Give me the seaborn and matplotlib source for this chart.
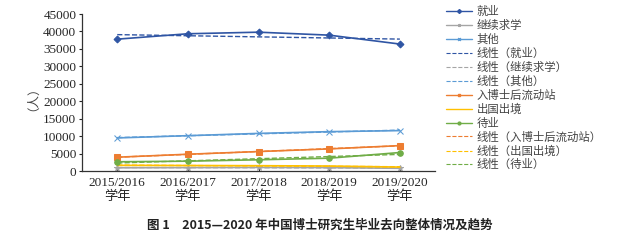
import numpy as np
import pandas as pd
import seaborn as sns
import matplotlib.pyplot as plt
from matplotlib.lines import Line2D

years = ['2015/2016\n学年', '2016/2017\n学年', '2017/2018\n学年', '2018/2019\n学年', '2019/2020\n学年']
employment = [37800, 39350, 39800, 38950, 36400]
further_study = [950, 1000, 1050, 1000, 800]
other = [9500, 10150, 10800, 11300, 11600]
postdoc = [3980, 4830, 5600, 6360, 7300]
abroad = [1650, 1600, 1550, 1450, 1150]
unemployed = [2670, 2840, 3240, 3700, 5320]

sns.set_style('ticks')
plt.rcParams['font.family'] = ['Liberation Serif', 'Noto Sans CJK SC']

fig = plt.figure(figsize=(6.4, 2.42), dpi=100)
ax = fig.add_axes([0.128, 0.293, 0.552, 0.649])

idx = np.arange(len(years))
series = [
    ('就业', employment, '#2F55A4', 'D', 3.5),
    ('继续求学', further_study, '#A5A5A5', '*', 5),
    ('其他', other, '#5B9BD5', 'x', 4),
    ('入博士后流动站', postdoc, '#ED7D31', 's', 4),
    ('出国出境', abroad, '#FFC000', '', 0),
    ('待业', unemployed, '#70AD47', 'o', 4),
]

solid = {}
trend = {}
for name, vals, col, mk, ms in series:
    df = pd.DataFrame({'x': idx, 'y': vals})
    sns.lineplot(data=df, x='x', y='y', ax=ax, color=col, marker=mk if mk else None,
                 markersize=ms, markeredgecolor=col, lw=1.2)
    sns.regplot(data=df, x='x', y='y', ax=ax, scatter=False, ci=None, truncate=True,
                line_kws=dict(ls='--', color=col, lw=1.0))
    solid[name] = Line2D([], [], color=col, lw=1.0, marker=mk if mk else None, markersize=2)
    trend[name] = Line2D([], [], color=col, lw=0.8, ls='--')

ax.set_xlim(-0.5, 4.5)
ax.set_ylim(0, 45000)
ax.set_yticks(np.arange(0, 45001, 5000))
ax.set_xticks(idx)
ax.set_xticklabels(years, fontsize=9.5, linespacing=1.2)
ax.tick_params(axis='y', labelsize=9.5, length=2, direction='out', pad=2)
ax.tick_params(axis='x', length=2, direction='in', pad=4)
ax.set_xlabel('')
ax.set_ylabel('（人）', fontsize=9, color='#444444', labelpad=7)
sns.despine(ax=ax)
for s in ['left', 'bottom']:
    ax.spines[s].set_color('#333333')
    ax.spines[s].set_linewidth(0.9)

order = ['就业', '继续求学', '其他', 'T就业', 'T继续求学', 'T其他',
         '入博士后流动站', '出国出境', '待业', 'T入博士后流动站', 'T出国出境', 'T待业']
handles, labels = [], []
for key in order:
    if key.startswith('T'):
        handles.append(trend[key[1:]])
        labels.append('线性（' + key[1:] + '）')
    else:
        handles.append(solid[key])
        labels.append(key)
fig.legend(handles, labels, loc='upper left', bbox_to_anchor=(0.697, 0.975),
           frameon=False, handlelength=2.3, handletextpad=0.4,
           labelspacing=0.24, borderpad=0, borderaxespad=0, labelcolor='#444444',
           prop={'family': ['Noto Sans CJK SC'], 'size': 8.2})

fig.text(0.5, 0.07, '图 1　2015—2020 年中国博士研究生毕业去向整体情况及趋势',
         ha='center', va='center', fontsize=9, fontweight='bold',
         family=['Noto Sans CJK SC'], color='#222222')

fig.savefig('out.png', dpi=100)
